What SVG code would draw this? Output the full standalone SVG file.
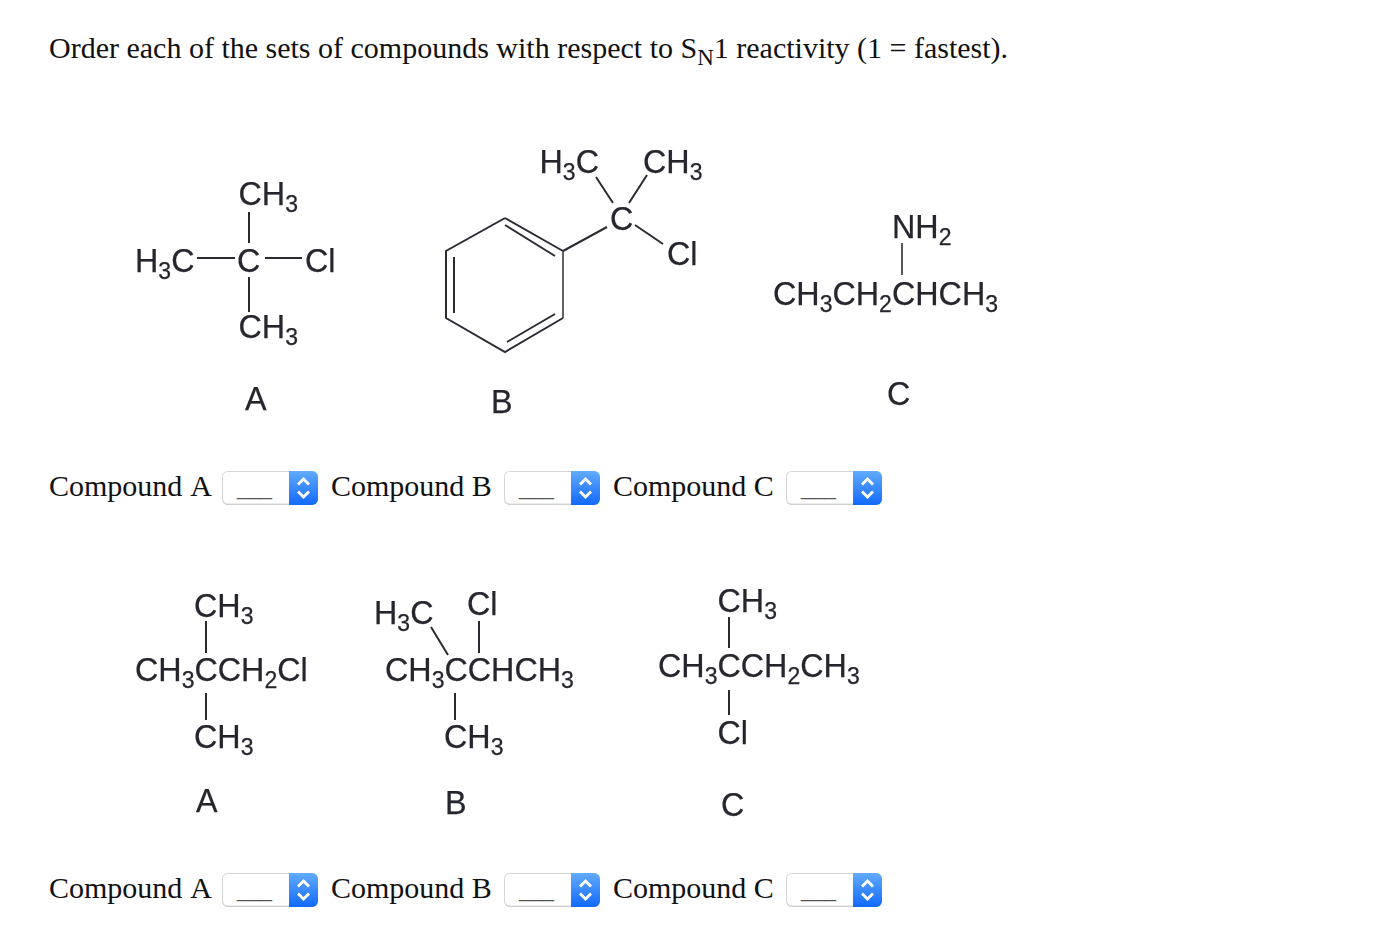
<svg xmlns="http://www.w3.org/2000/svg" xmlns:xlink="http://www.w3.org/1999/xlink" width="1398" height="948" viewBox="0 0 1398 948">
<style>
.q{font-family:"Liberation Serif","Times New Roman",serif;font-size:30px;fill:#111}
.m{font-family:"Liberation Sans",Arial,sans-serif;font-size:32.3px;fill:#25252d;stroke:#25252d;stroke-width:.25;filter:url(#soft)}
.s{font-size:23px}
.b{fill:none;stroke:#2c2c33;stroke-width:2;filter:url(#soft)}
.u{font-family:"Liberation Sans",Arial,sans-serif;font-size:21px;fill:#555}
.chev{fill:none;stroke:#fff;stroke-width:2.8}
</style>
<defs>
<filter id="soft" filterUnits="userSpaceOnUse" x="0" y="0" width="1398" height="948"><feGaussianBlur stdDeviation="0.45"/></filter>
<linearGradient id="blue" x1="0" y1="0" x2="0" y2="1"><stop offset="0" stop-color="#62abfd"/><stop offset="1" stop-color="#1269fb"/></linearGradient>
<g id="select">
<rect x="0.5" y="1" width="95" height="33" rx="5" fill="#c8c8c8"/>
<rect x="0.5" y="0.5" width="95" height="32.5" rx="5" fill="#fff" stroke="#d6d6d6"/>
<path d="M67 0H90a6 6 0 0 1 6 6V28a6 6 0 0 1-6 6H67Z" fill="url(#blue)"/>
<path class="chev" d="M76 13.500L81.500 8L87 13.500M76 20.500L81.500 26L87 20.500"/>
<text class="u" x="15" y="23.500">___</text>
</g>
</defs>
<rect width="1398" height="948" fill="#fff"/>
<text id="question" class="q" x="49" y="58">Order each of the sets of compounds with respect to S<tspan font-size="23" dy="7">N</tspan><tspan dy="-7">1 reactivity (1 = fastest).</tspan></text>

<g id="connectors">
<path class="b" d="M249 212V243M197 258H235M265 258H302M249 277V312"/>
<path class="b" d="M505 218L563 251M563 318L505 352L446 318V251L505 218M505 225L555 256M454 257V313M507 342L555 314"/>
<path class="b" stroke-opacity=".75" d="M563 251V318"/>
<path class="b" d="M563 251L607 227M596 177L613 203M647 175L629 203M635 225L663 244"/>
<path class="b" stroke-opacity=".8" d="M902 243V275"/>
<path class="b" d="M206 621V653M206 693V720"/>
<path class="b" d="M479 621V653M431 627L448 655M455 693V720"/>
<path class="b" d="M729 617V648M729 690V715"/>
</g>

<g id="set1-compound-a">
<text class="m" x="238.500" y="205">CH<tspan class="s" dy="7">3</tspan></text>
<text class="m" x="135" y="271.500">H<tspan class="s" dy="7">3</tspan><tspan dy="-7">C</tspan></text>
<text class="m" x="237" y="271.500">C</text>
<text class="m" x="305" y="271.500">Cl</text>
<text class="m" x="238.500" y="338">CH<tspan class="s" dy="7">3</tspan></text>
<text class="m" x="245" y="410">A</text>
</g>
<g id="set1-compound-b">
<text class="m" x="539.500" y="172.500">H<tspan class="s" dy="7">3</tspan><tspan dy="-7">C</tspan></text>
<text class="m" x="643" y="172.500">CH<tspan class="s" dy="7">3</tspan></text>
<text class="m" x="610" y="230">C</text>
<text class="m" x="667" y="264.500">Cl</text>
<text class="m" x="491" y="412.500">B</text>
</g>
<g id="set1-compound-c">
<text class="m" x="892" y="238">NH<tspan class="s" dy="7">2</tspan></text>
<text class="m" x="773" y="305">CH<tspan class="s" dy="7">3</tspan><tspan dy="-7">CH</tspan><tspan class="s" dy="7">2</tspan><tspan dy="-7">CHCH</tspan><tspan class="s" dy="7">3</tspan></text>
<text class="m" x="887" y="405">C</text>
</g>

<g id="set1-answers">
<text class="q" x="49" y="496">Compound <tspan dx="2">A</tspan></text>
<use xlink:href="#select" href="#select" x="222" y="471"/>
<text class="q" x="331" y="496">Compound B</text>
<use xlink:href="#select" href="#select" x="504" y="471"/>
<text class="q" x="613" y="496">Compound C</text>
<use xlink:href="#select" href="#select" x="786" y="471"/>
</g>

<g id="set2-compound-a">
<text class="m" x="194" y="617">CH<tspan class="s" dy="7">3</tspan></text>
<text class="m" x="135" y="681">CH<tspan class="s" dy="7">3</tspan><tspan dy="-7">CCH</tspan><tspan class="s" dy="7">2</tspan><tspan dy="-7">Cl</tspan></text>
<text class="m" x="194" y="748">CH<tspan class="s" dy="7">3</tspan></text>
<text class="m" x="196" y="812">A</text>
</g>
<g id="set2-compound-b">
<text class="m" x="374" y="624">H<tspan class="s" dy="7">3</tspan><tspan dy="-7">C</tspan></text>
<text class="m" x="467" y="615">Cl</text>
<text class="m" x="385" y="681">CH<tspan class="s" dy="7">3</tspan><tspan dy="-7">CCHCH</tspan><tspan class="s" dy="7">3</tspan></text>
<text class="m" x="444" y="748">CH<tspan class="s" dy="7">3</tspan></text>
<text class="m" x="445" y="814">B</text>
</g>
<g id="set2-compound-c">
<text class="m" x="717.500" y="611.500">CH<tspan class="s" dy="7">3</tspan></text>
<text class="m" x="658" y="677">CH<tspan class="s" dy="7">3</tspan><tspan dy="-7">CCH</tspan><tspan class="s" dy="7">2</tspan><tspan dy="-7">CH</tspan><tspan class="s" dy="7">3</tspan></text>
<text class="m" x="717.500" y="744">Cl</text>
<text class="m" x="721" y="815.500">C</text>
</g>

<g id="set2-answers">
<text class="q" x="49" y="898">Compound <tspan dx="2">A</tspan></text>
<use xlink:href="#select" href="#select" x="222" y="873"/>
<text class="q" x="331" y="898">Compound B</text>
<use xlink:href="#select" href="#select" x="504" y="873"/>
<text class="q" x="613" y="898">Compound C</text>
<use xlink:href="#select" href="#select" x="786" y="873"/>
</g>
</svg>
